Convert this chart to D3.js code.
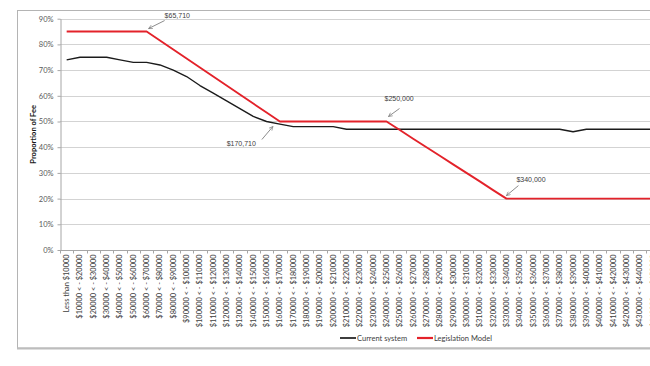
<!DOCTYPE html>
<html>
<head>
<meta charset="utf-8">
<script src="https://cdn.jsdelivr.net/npm/d3@7"></script>
<style>
  html, body { margin: 0; padding: 0; background: #fff; overflow: hidden; }
  svg { display: block; }
  text { font-family: Lato, "Open Sans", sans-serif; }
</style>
</head>
<body>
<div id="container"></div>
<script>
const width = 820;
const height = 366;
const margin = { top: 18.7, bottom: 116, left: 60, right: 147 };

// income brackets
const categories = [
  "Less than $10000",
  "$10000 < - $20000", "$20000 < - $30000", "$30000 < - $40000", "$40000 < - $50000",
  "$50000 < - $60000", "$60000 < - $70000", "$70000 < - $80000", "$80000 < - $90000",
  "$90000 < - $100000", "$100000 < - $110000", "$110000 < - $120000", "$120000 < - $130000",
  "$130000 < - $140000", "$140000 < - $150000", "$150000 < - $160000", "$160000 < - $170000",
  "$170000 < - $180000", "$180000 < - $190000", "$190000 < - $200000", "$200000 < - $210000",
  "$210000 < - $220000", "$220000 < - $230000", "$230000 < - $240000", "$240000 < - $250000",
  "$250000 < - $260000", "$260000 < - $270000", "$270000 < - $280000", "$280000 < - $290000",
  "$290000 < - $300000", "$300000 < - $310000", "$310000 < - $320000", "$320000 < - $330000",
  "$330000 < - $340000", "$340000 < - $350000", "$350000 < - $360000", "$360000 < - $370000",
  "$370000 < - $380000", "$380000 < - $390000", "$390000 < - $400000", "$400000 < - $410000",
  "$410000 < - $420000", "$420000 < - $430000", "$430000 < - $440000", "$440000 < - $450000",
  "$450000 < - $460000"
];

// proportion of fee, in percent
const currentSystem = [
  74, 75, 75, 75, 74, 73, 73, 72, 70, 67.5,
  64, 61, 58, 55, 52, 50, 49, 48, 48, 48,
  48, 47, 47, 47, 47, 47, 47, 47, 47, 47,
  47, 47, 47, 47, 47, 47, 47, 47, 46, 47,
  47, 47, 47, 47, 47, 47
];
const legislationModel = [
  85, 85, 85, 85, 85, 85, 85, 81.5, 78, 74.5,
  71, 67.5, 64, 60.5, 57, 53.5, 50, 50, 50, 50,
  50, 50, 50, 50, 50, 46.7, 43.3, 40, 36.7, 33.3,
  30, 26.7, 23.3, 20, 20, 20, 20, 20, 20, 20,
  20, 20, 20, 20, 20, 20
];

const yTicks = [0, 10, 20, 30, 40, 50, 60, 70, 80, 90];

const series = [
  { name: "Current system", values: currentSystem, color: "#1b1b1b", w: 1.4 },
  { name: "Legislation Model", values: legislationModel, color: "#e3222a", w: 1.9 }
];

// callouts: which bracket and series value they point at
const notes = [
  { text: "$65,710", idx: 6, val: 85, tail: [18, -11], head: [2, -3], tx: [18, -14], anchor: "start" },
  { text: "$170,710", idx: 16, val: 50, tail: [-18, 18], head: [-7, 5], tx: [-24, 24], anchor: "end" },
  { text: "$250,000", idx: 24, val: 50, tail: [13, -13], head: [2, -5], tx: [-2, -21], anchor: "start" },
  { text: "$340,000", idx: 33, val: 20, tail: [12, -13], head: [0, -3], tx: [10, -17], anchor: "start" }
];

const xScale = d3.scaleBand()
  .domain(categories)
  .range([margin.left, width - margin.right]);

const yScale = d3.scaleLinear()
  .domain([0, 90])
  .range([height - margin.bottom, margin.top]);

const svg = d3.select("#container")
  .append("svg")
  .attr("width", width)
  .attr("height", height);

// outer chart frame
svg.append("rect")
  .attr("x", 17.5).attr("y", 10.5)
  .attr("width", 790).attr("height", 337.5)
  .attr("fill", "none")
  .attr("stroke", "#b4b4b4");
svg.append("line")
  .attr("x1", 17).attr("x2", 808)
  .attr("y1", 348.5).attr("y2", 348.5)
  .attr("stroke", "#bdbdbd").attr("stroke-width", 2);

// gridlines
svg.append("g")
  .selectAll("line")
  .data(yTicks.filter(d => d > 0))
  .join("line")
  .attr("x1", margin.left)
  .attr("x2", width - margin.right)
  .attr("y1", d => Math.round(yScale(d)) + 0.5)
  .attr("y2", d => Math.round(yScale(d)) + 0.5)
  .attr("stroke", "#d3d3d3");

// y axis
const yAxis = svg.append("g")
  .attr("transform", `translate(${margin.left + 0.5},0)`)
  .call(d3.axisLeft(yScale).tickValues(yTicks).tickFormat(d => d + "%").tickSize(3).tickSizeOuter(0));
yAxis.select(".domain").attr("stroke", "#a6a6a6");
yAxis.selectAll(".tick line").attr("stroke", "#a6a6a6");
yAxis.selectAll(".tick text")
  .attr("x", -7)
  .attr("fill", "#595959")
  .style("font-size", "7.5px");

// x axis: ticks between brackets
const x0 = Math.round(yScale(0)) + 0.5;
const xAxis = svg.append("g");
xAxis.append("line")
  .attr("x1", margin.left).attr("x2", width - margin.right)
  .attr("y1", x0).attr("y2", x0)
  .attr("stroke", "#a6a6a6");
xAxis.selectAll(".tk")
  .data(categories)
  .join("line")
  .attr("class", "tk")
  .attr("x1", d => Math.round(xScale(d)) + 0.5)
  .attr("x2", d => Math.round(xScale(d)) + 0.5)
  .attr("y1", x0).attr("y2", x0 + 3)
  .attr("stroke", "#a6a6a6");
xAxis.selectAll(".lbl")
  .data(categories)
  .join("text")
  .attr("class", "lbl")
  .attr("transform", d => `translate(${xScale(d) + xScale.bandwidth() / 2 + 2.5},${x0 + 4}) rotate(-90)`)
  .attr("text-anchor", "end")
  .attr("fill", "#404040")
  .style("font-size", "7.4px")
  .text(d => d);

// y title
svg.append("text")
  .attr("transform", `translate(36,${(yScale(0) + yScale(90)) / 2}) rotate(-90)`)
  .attr("text-anchor", "middle")
  .attr("fill", "#1a1a1a")
  .style("font-size", "7.5px")
  .style("font-weight", "bold")
  .text("Proportion of Fee");

// lines
const line = d3.line()
  .x((d, i) => xScale(categories[i]) + xScale.bandwidth() / 2)
  .y(d => yScale(d));

svg.append("g")
  .selectAll("path")
  .data(series)
  .join("path")
  .attr("d", d => line(d.values))
  .attr("fill", "none")
  .attr("stroke", d => d.color)
  .attr("stroke-width", d => d.w)
  .attr("stroke-linejoin", "round");

// callouts
svg.append("defs").append("marker")
  .attr("id", "arr")
  .attr("viewBox", "0 0 10 10")
  .attr("refX", 9).attr("refY", 5)
  .attr("markerWidth", 6).attr("markerHeight", 6)
  .attr("orient", "auto")
  .append("path")
  .attr("d", "M1,1 L9,5 L1,9")
  .attr("fill", "none")
  .attr("stroke", "#6e6e6e")
  .attr("stroke-width", 1.2);

const noteG = svg.append("g")
  .selectAll("g")
  .data(notes)
  .join("g")
  .attr("transform", d => `translate(${xScale(categories[d.idx]) + xScale.bandwidth() / 2},${yScale(d.val)})`);

noteG.append("line")
  .attr("x1", d => d.tail[0]).attr("y1", d => d.tail[1])
  .attr("x2", d => d.head[0]).attr("y2", d => d.head[1])
  .attr("stroke", "#6e6e6e")
  .attr("stroke-width", 0.8)
  .attr("marker-end", "url(#arr)");

noteG.append("text")
  .attr("x", d => d.tx[0]).attr("y", d => d.tx[1])
  .attr("text-anchor", d => d.anchor)
  .attr("fill", "#404040")
  .style("font-family", "'Liberation Sans', Arial, sans-serif")
  .style("font-size", "7px")
  .text(d => d.text);

// legend
const legend = svg.append("g")
  .selectAll("g")
  .data(series)
  .join("g")
  .attr("transform", (d, i) => `translate(${340 + i * 77},338)`);
legend.append("line")
  .attr("x1", 0).attr("x2", 16)
  .attr("stroke", d => d.color)
  .attr("stroke-width", d => d.w + 0.3);
legend.append("text")
  .attr("x", 17).attr("y", 2.6)
  .attr("fill", "#404040")
  .style("font-size", "7.5px")
  .text(d => d.name);
</script>
</body>
</html>
